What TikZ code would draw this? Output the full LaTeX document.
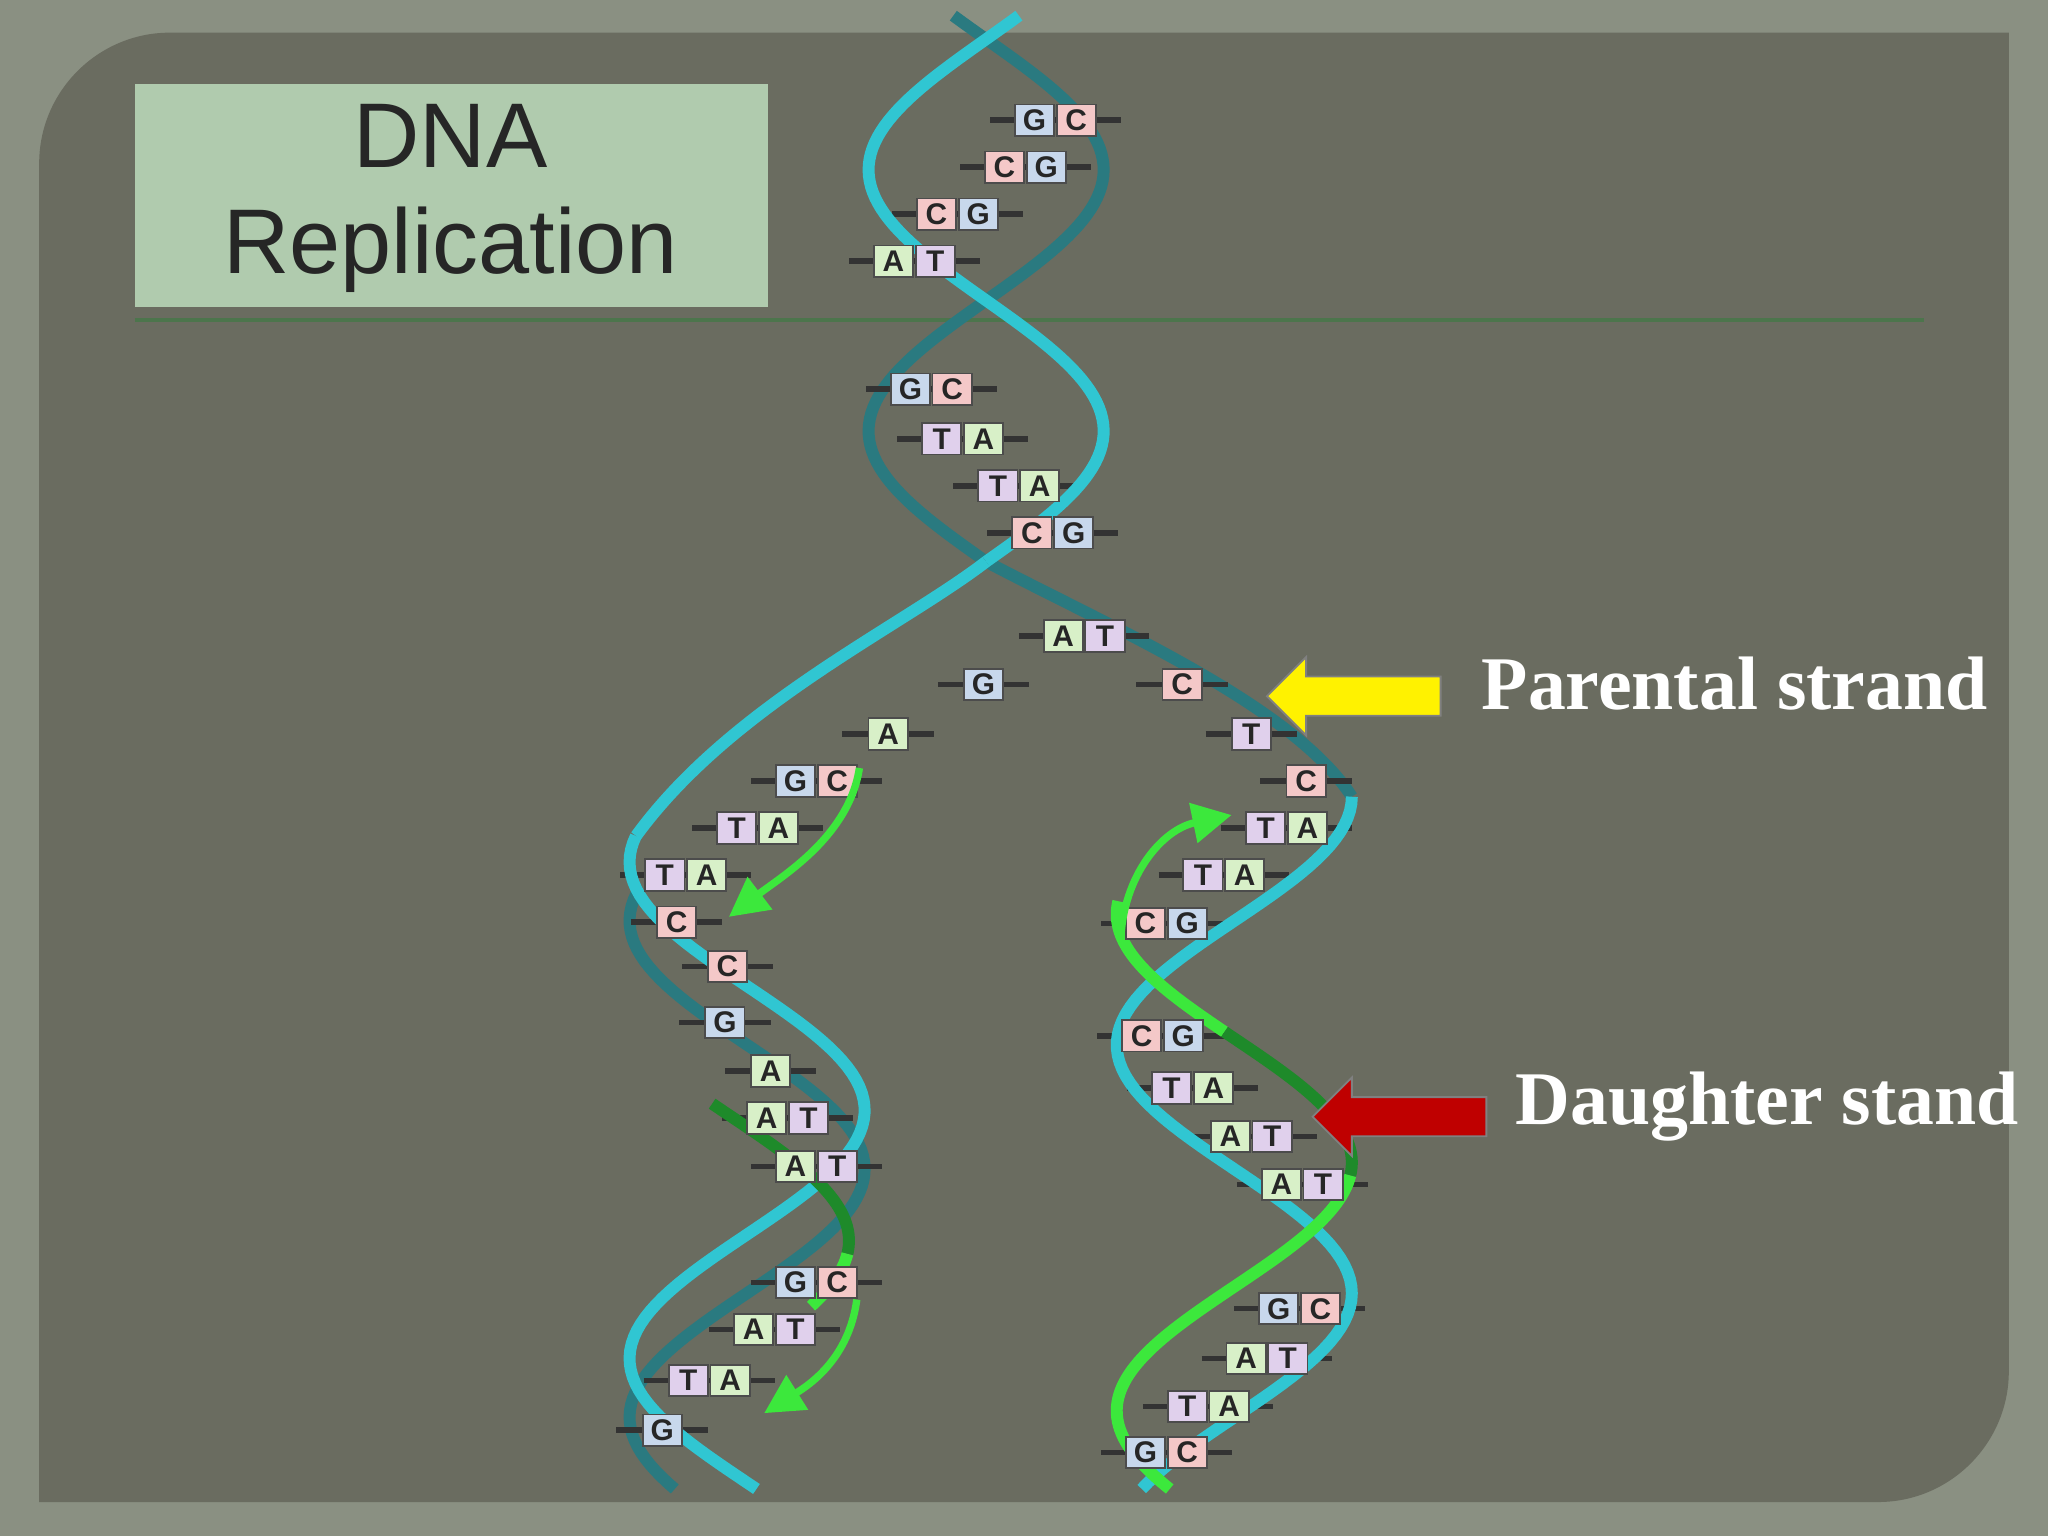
\documentclass[tikz,border=0pt]{standalone}
\usepackage{fontspec}
\usetikzlibrary{arrows.meta}
\newfontfamily\titlefont{Liberation Sans}
\newfontfamily\labfont{Liberation Serif}
\definecolor{bgout}{HTML}{8A9082}
\definecolor{panel}{HTML}{6A6C60}
\definecolor{titlebg}{HTML}{B0CBAE}
\definecolor{cyanS}{HTML}{30C6D2}
\definecolor{tealS}{HTML}{2A7A80}
\definecolor{greenS}{HTML}{3CE83C}
\definecolor{dgreenS}{HTML}{1E8A2A}
\definecolor{cA}{HTML}{D8F0C8}
\definecolor{cC}{HTML}{F4C8C8}
\definecolor{cG}{HTML}{C8D8EC}
\definecolor{cT}{HTML}{E0D0EC}
\tikzset{
 strand/.style={line width=2.6pt, line cap=butt},
 rung/.style={draw=black!80, line width=1.2pt},
 base/.style={draw=black!70, line width=0.4pt, minimum width=0.3cm, minimum height=0.24cm, inner sep=0pt, font=\titlefont\fontsize{6.5}{7}\selectfont\bfseries, text=black!85},
 garrow/.style={draw=greenS, line width=1.6pt, -{Triangle[length=0.3cm,width=0.3cm]}},
 lab/.style={font=\labfont\fontsize{16.5}{18}\selectfont\bfseries, text=white, anchor=west}
}
\begin{document}
\begin{tikzpicture}[x=0.01cm,y=-0.01cm]
\useasboundingbox (0,0) rectangle (1568,1176);
\fill[bgout] (0,0) rectangle (1568,1176);
\fill[panel] (130,25) -- (1538,25) -- (1538,1050) .. controls (1538,1105) and (1493,1150) .. (1438,1150) -- (30,1150) -- (30,125) .. controls (30,70) and (75,25) .. (130,25) -- cycle;
\fill[titlebg] (103,64) rectangle (588,235);
\node[font=\titlefont\fontsize{20}{23}\selectfont, text=black!85, align=center] (title) at (345,152) {DNA\\Replication};
\draw[draw=black!60!green!40!gray, line width=1pt] (103,245) -- (1473,245);
% back strands
\draw[strand, tealS] plot[domain=12:430, samples=100] ({755+90*cos(0.9*(\x-130))}, \x);
\draw[strand, tealS] (755,430) .. controls (850,480) and (990,540) .. (1035,610);
\draw[strand, tealS] plot[domain=680:1140, samples=100] ({572+90*cos(0.947*(\x-895))}, \x);
% rungs
\foreach \x/\y in {808/92,785/128,733/164,700/200,713/298,737/336,780/372,806/408,830/487,625/598,580/634,525/670,603/856,625/893,625/982,593/1018,543/1057,985/634,937/670,893/707,890/793,913/833,958/870,997/907,995/1002,970/1040,925/1077,893/1112}
  \draw[rung] (\x-50,\y) -- (\x+50,\y);
\foreach \x/\y in {753/524,680/562,518/706,557/740,555/783,590/820,507/1095,905/524,958/562,1000/598}
  \draw[rung] (\x-35,\y) -- (\x+35,\y);
% front strands
\draw[strand, cyanS] plot[domain=12:430, samples=100] ({755-90*cos(0.9*(\x-130))}, \x);
\draw[strand, cyanS] (755,430) .. controls (690,480) and (560,540) .. (487,640);
\draw[strand, cyanS] plot[domain=640:1140, samples=100] ({572-90*cos(0.947*(\x-660))}, \x);
\draw[strand, dgreenS] plot[domain=845:960, samples=40] ({560+90*cos(0.947*(\x-950))}, \x);
\draw[strand, greenS] plot[domain=960:1000, samples=20] ({560+90*cos(0.947*(\x-950))}, \x);
\draw[strand, cyanS] plot[domain=610:1140, samples=100] ({945+90*cos(0.947*(\x-610))}, \x);
\draw[strand, greenS] plot[domain=690:790, samples=40] ({945-90*cos(0.947*(\x-700))}, \x);
\draw[strand, dgreenS] plot[domain=790:900, samples=40] ({945-90*cos(0.947*(\x-700))}, \x);
\draw[strand, greenS] plot[domain=900:1140, samples=80] ({945-90*cos(0.947*(\x-700))}, \x);
% base pairs
\foreach \x/\y/\a/\b [count=\i] in {808/92/G/C,785/128/C/G,733/164/C/G,700/200/A/T,713/298/G/C,737/336/T/A,780/372/T/A,806/408/C/G,830/487/A/T,625/598/G/C,580/634/T/A,525/670/T/A,603/856/A/T,625/893/A/T,625/982/G/C,593/1018/A/T,543/1057/T/A,985/634/T/A,937/670/T/A,893/707/C/G,890/793/C/G,913/833/T/A,958/870/A/T,997/907/A/T,995/1002/G/C,970/1040/A/T,925/1077/T/A,893/1112/G/C}{
  \node[base, fill=c\a] (pl\i) at (\x-16,\y) {\a};
  \node[base, fill=c\b] (pr\i) at (\x+16,\y) {\b};
}
\foreach \x/\y/\a [count=\i] in {753/524/G,680/562/A,518/706/C,557/740/C,555/783/G,590/820/A,507/1095/G,905/524/C,958/562/T,1000/598/C}
  \node[base, fill=c\a] (s\i) at (\x,\y) {\a};
% green arrows
\coordinate (ga1) at (658,588); \coordinate (gb1) at (558,702);
\coordinate (ga2) at (656,995); \coordinate (gb2) at (585,1082);
\coordinate (ga3) at (858,720); \coordinate (gb3) at (943,624);
\draw[garrow] (ga1) .. controls (650,640) and (600,670) .. (gb1);
\draw[garrow] (ga2) .. controls (650,1040) and (620,1060) .. (gb2);
\draw[garrow] (ga3) .. controls (860,670) and (890,635) .. (gb3);
% block arrows
\fill[yellow, draw=black!50] (970,533) -- (1000,503) -- (1000,518) -- (1103,518) -- (1103,548) -- (1000,548) -- (1000,563) -- cycle;
\fill[red!75!black, draw=black!50] (1005,855) -- (1035,825) -- (1035,840) -- (1138,840) -- (1138,870) -- (1035,870) -- (1035,885) -- cycle;
\node[lab] (pl) at (1122,523) {Parental strand};
\node[lab] (dl) at (1148,847) {Daughter stand};
\end{tikzpicture}
\end{document}
